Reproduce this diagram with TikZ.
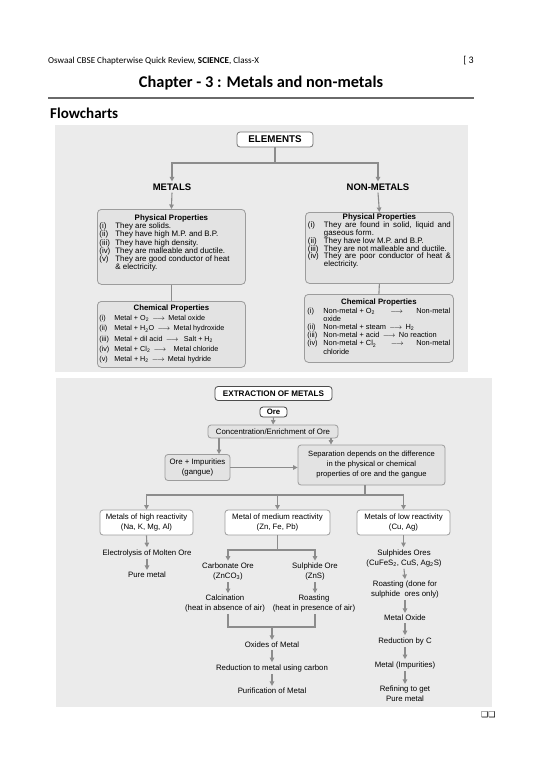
\documentclass[tikz,border=0pt]{standalone}
\usepackage{fontspec}
\setmainfont{Liberation Sans}
\newfontfamily\hdr{Carlito}
\newfontfamily\dv{DejaVu Sans}
\usetikzlibrary{arrows.meta,calc}
\definecolor{panel}{HTML}{EBEBEB}
\definecolor{boxg}{HTML}{E3E3E3}
\definecolor{bord}{HTML}{9C9C9C}
\definecolor{arrc}{HTML}{8C8C8C}
\definecolor{rulec}{HTML}{6A6A6A}
\newlength\lw
\newlength\lab
\setlength\lab{16pt}
\newcommand\pl[2]{\makebox[\lw][l]{\makebox[\lab][l]{#1}#2}}
\newcommand\pj[2]{\makebox[\lw][l]{\makebox[\lab][l]{#1}\makebox[\dimexpr\lw-\lab\relax][s]{#2}}}
\newcommand\myfa{\fontsize{7.8}{10}\selectfont}
\newcommand\myfp{\fontsize{7.9}{8.2}\selectfont}
\newcommand\lra{\,$\longrightarrow$\,}
\tikzset{
 ln/.style={draw=arrc, line width=1.1pt},
 arr/.style={ln, -{Triangle[length=4.5pt,width=4.5pt]}},
 pbox/.style={draw=bord, fill=boxg, rounded corners=4pt, line width=0.8pt, inner sep=0pt, anchor=north west},
 ptxt/.style={anchor=north, inner sep=0pt, align=center},
 wbox/.style={draw=bord, fill=white, rounded corners=3pt, line width=0.8pt, align=center, font=\myfa, inner sep=0pt},
 gbox/.style={wbox, fill=boxg},
 txt/.style={align=center, font=\myfa, inner sep=2pt},
 big/.style={font=\bfseries\fontsize{9.5}{11}\selectfont, inner sep=2pt},
}
\begin{document}
\begin{tikzpicture}[x=1pt,y=-1pt]
\useasboundingbox (0,0) rectangle (550,777);
\fill[white] (0,0) rectangle (550,777);
% header
\node[anchor=west, inner sep=0pt] (hd) at (48,61) {\resizebox{211pt}{!}{\hdr Oswaal CBSE Chapterwise Quick Review, \textbf{SCIENCE}, Class-X}};
\node[anchor=east, inner sep=0pt] (pg) at (474,61) {\hdr\fontsize{10}{11}\selectfont [ 3};
\node[inner sep=0pt] (title) at (261,83) {\resizebox{244pt}{!}{\hdr\bfseries Chapter - 3 : Metals and non-metals}};
\draw[line width=2pt, rulec] (48,98) -- (474,98);
\node[anchor=west, inner sep=0pt] (flow) at (50,113) {\resizebox{68pt}{!}{\hdr\bfseries Flowcharts}};
% panels
\fill[panel] (55,125) rectangle (468,372);
\fill[panel] (56,378) rectangle (492,707);
% ---------- panel 1
\node[wbox, draw=black!55, minimum width=76pt, minimum height=15pt, font=\bfseries\fontsize{9.8}{11}\selectfont] (elem) at (275,139.5) {ELEMENTS};
\node[big] (metals) at (172,187) {METALS};
\node[big] (nonmetals) at (378,187) {NON-METALS};
\coordinate (j1) at (275,163);
\draw[ln] (elem.south) -- (j1);
\draw[arr] (j1) -| (metals.north);
\draw[arr] (j1) -| (nonmetals.north);

\node[pbox, minimum width=148pt, minimum height=75pt] (mphys) at (97,209) {};
\node[pbox, minimum width=148pt, minimum height=71pt] (nphys) at (305,212) {};
\node[pbox, minimum width=148pt, minimum height=66pt] (mchem) at (97,301) {};
\node[pbox, minimum width=149pt, minimum height=68pt] (nchem) at (304,294) {};
\draw[arr] (metals.south) -- (mphys.north);
\draw[arr] (nonmetals.south) -- (nphys.north);
\draw[ln] (mphys.south) -- (mchem.north);
\draw[ln] (nphys.south) -- (nchem.north);

\setlength\lw{144pt}
\node[ptxt, font=\myfp] (mphyst) at ($(mphys.north)+(0,5.5)$) {\textbf{Physical Properties}\\
\pl{(i)}{They are solids.}\\
\pl{(ii)}{They have high M.P. and B.P.}\\
\pl{(iii)}{They have high density.}\\
\pl{(iv)}{They are malleable and ductile.}\\
\pl{(v)}{They are good conductor of heat}\\
\pl{}{\& electricity.}};

\setlength\lw{143pt}
\node[ptxt, font=\fontsize{7.9}{7.9}\selectfont] (nphyst) at ($(nphys.north)+(0,1.5)$) {\textbf{Physical Properties}\\
\pj{(i)}{They are found in solid, liquid and}\\
\pl{}{gaseous form.}\\
\pl{(ii)}{They have low M.P. and B.P.}\\
\pl{(iii)}{They are not malleable and ductile.}\\
\pj{(iv)}{They are poor conductor of heat \&}\\
\pl{}{electricity.}};

\setlength\lab{15pt}
\setlength\lw{144pt}
\node[ptxt, font=\fontsize{7.2}{10.3}\selectfont] (mchemt) at ($(mchem.north)+(0,3.5)$) {\textbf{\fontsize{7.8}{10.3}\selectfont Chemical Properties}\\
\pl{(i)}{Metal + O\textsubscript{2} \lra\ Metal oxide}\\
\pl{(ii)}{Metal + H\textsubscript{2}O \lra\ Metal hydroxide}\\
\pl{(iii)}{Metal + dil acid \lra\ \ Salt + H\textsubscript{2}}\\
\pl{(iv)}{Metal + Cl\textsubscript{2} \lra\ \ \ Metal chloride}\\
\pl{(v)}{Metal + H\textsubscript{2} \lra\ Metal hydride}};

\setlength\lab{16pt}
\setlength\lw{143pt}
\node[ptxt, font=\fontsize{7.4}{8.2}\selectfont] (nchemt) at ($(nchem.north)+(0,5)$) {\textbf{\fontsize{7.8}{8.2}\selectfont Chemical Properties}\\
\pl{(i)}{Non-metal + O\textsubscript{2} \hfill$\longrightarrow$\hfill Non-metal}\\
\pl{}{oxide}\\
\pl{(ii)}{Non-metal + steam \lra\ H\textsubscript{2}}\\
\pl{(iii)}{Non-metal + acid \lra\ No reaction}\\
\pl{(iv)}{Non-metal + Cl\textsubscript{2} \hfill$\longrightarrow$\hfill Non-metal}\\
\pl{}{chloride}};

% ---------- panel 2
\node[wbox, draw=black!70, minimum width=117pt, minimum height=14pt, font=\bfseries\fontsize{8.1}{9}\selectfont] (extr) at (273.5,393.5) {EXTRACTION OF METALS};
\node[wbox, draw=black!75, minimum width=27pt, minimum height=10pt, font=\bfseries\fontsize{7.8}{9}\selectfont] (ore) at (273.5,412) {Ore};
\node[gbox, minimum width=130pt, minimum height=13pt] (conc) at (273,431.5) {Concentration/Enrichment of Ore};
\node[gbox, minimum width=65pt, minimum height=26pt] (oreimp) at (197.5,467.5) {Ore + Impurities\\(gangue)};
\node[gbox, minimum width=147pt, minimum height=40pt, font=\fontsize{7.6}{10}\selectfont] (sep) at (371.5,465) {Separation depends on the difference\\in the physical or chemical\\properties of ore and the gangue};
\draw[arr] (ore.south) -- (conc.north);
\draw[arr] ([xshift=-54pt]conc.south) -- ([xshift=-54pt]conc.south |- oreimp.north);
\draw[arr] ([xshift=58pt]conc.south) -- ([xshift=58pt]conc.south |- sep.north);
\draw[arr] (oreimp.east) -- (oreimp.east -| sep.west);

\node[wbox, minimum width=93pt, minimum height=25pt] (high) at (146.5,522.5) {Metals of high reactivity\\(Na, K, Mg, Al)};
\node[wbox, minimum width=105pt, minimum height=25pt] (mid) at (277.5,522.5) {Metal of medium reactivity\\(Zn, Fe, Pb)};
\node[wbox, minimum width=93pt, minimum height=25pt] (low) at (403.5,522.5) {Metals of low reactivity\\(Cu, Ag)};
\coordinate (j2) at (365,495);
\draw[ln] ([xshift=-6.5pt]sep.south) -- (j2);
\draw[arr] (j2) -| (high.north);
\draw[arr] (j2) -| (low.north);
\draw[arr] (mid.north |- j2) -- (mid.north);

% high column
\node[txt] (elec) at (147,553) {Electrolysis of Molten Ore};
\node[txt] (pure) at (147,575) {Pure metal};
\draw[arr] (high.south) -- (elec.north);
\draw[arr] (elec.south) -- (pure.north);

% medium column
\node[txt] (carb) at (228,571.5) {Carbonate Ore\\(ZnCO\textsubscript{3})};
\node[txt] (sulph) at (315,571.5) {Sulphide Ore\\(ZnS)};
\coordinate (j3) at (277.5,550);
\draw[ln] (mid.south) -- (j3);
\draw[arr] (j3) -| (carb.north);
\draw[arr] (j3) -| (sulph.north);
\node[txt, font=\fontsize{7.8}{9.2}\selectfont] (calc) at (225,603.5) {Calcination\\(heat in absence of air)};
\node[txt, font=\fontsize{7.8}{9.2}\selectfont] (roast) at (314,603.5) {Roasting\\(heat in presence of air)};
\draw[arr] (carb.south) -- (carb.south |- calc.north);
\draw[arr] (sulph.south) -- (sulph.south |- roast.north);
\coordinate (j4) at (272,627);
\draw[ln] (calc.south -| carb.south) |- (j4) -| (roast.south -| sulph.south);
\node[txt] (oxm) at (272,645) {Oxides of Metal};
\node[txt] (redm) at (272,668) {Reduction to metal using carbon};
\node[txt] (purm) at (272,691) {Purification of Metal};
\draw[arr] (j4) -- (oxm.north);
\draw[arr] (oxm.south) -- (redm.north);
\draw[arr] (redm.south) -- (purm.north);

% low column
\node[txt] (sulos) at (404,558) {Sulphides Ores\\(CuFeS\textsubscript{2}, CuS, Ag\textsubscript{2}S)};
\node[txt, font=\fontsize{7.8}{9.2}\selectfont] (roastl) at (405,589.5) {Roasting (done for\\sulphide \ ores only)};
\node[txt] (mox) at (405,618) {Metal Oxide};
\node[txt] (redc) at (405,641) {Reduction by C};
\node[txt] (mimp) at (405,665) {Metal (Impurities)};
\node[txt] (refin) at (405,694) {Refining to get\\Pure metal};
\draw[arr] (low.south) -- (low.south |- sulos.north);
\draw[arr] (sulos.south) -- (roastl.north);
\draw[arr] (roastl.south) -- (mox.north);
\draw[arr] (mox.south) -- (redc.north);
\draw[arr] (redc.south) -- (mimp.north);
\draw[arr] (mimp.south) -- (refin.north);

\node[anchor=west, inner sep=0pt] (qq) at (481,715) {\dv\fontsize{8}{9}\selectfont ❑❑};
\end{tikzpicture}
\end{document}
